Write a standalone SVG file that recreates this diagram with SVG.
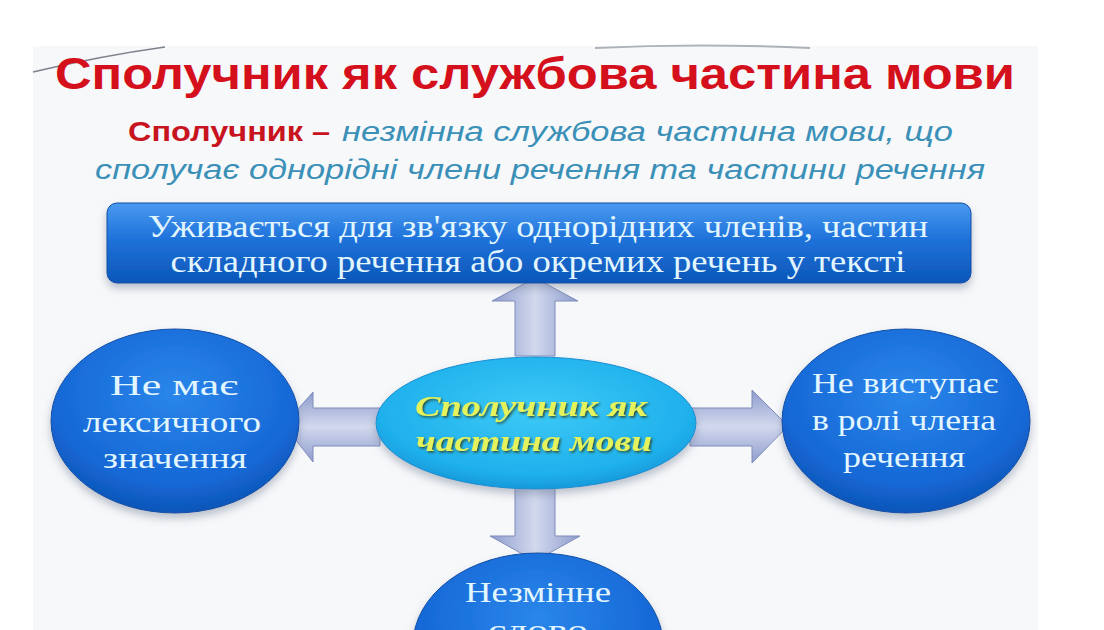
<svg xmlns="http://www.w3.org/2000/svg" width="1104" height="630" viewBox="0 0 1104 630">
  <defs>
    <linearGradient id="gBox" x1="0" y1="0" x2="0" y2="1">
      <stop offset="0" stop-color="#4a9af0"/>
      <stop offset="0.45" stop-color="#1e72da"/>
      <stop offset="1" stop-color="#0c56b8"/>
    </linearGradient>
    <radialGradient id="gBlue" cx="0.5" cy="0.35" r="0.7">
      <stop offset="0" stop-color="#2a86ea"/>
      <stop offset="0.7" stop-color="#1668d6"/>
      <stop offset="1" stop-color="#0a4fae"/>
    </radialGradient>
    <radialGradient id="gCenter" cx="0.5" cy="0.4" r="0.65">
      <stop offset="0" stop-color="#3dcaf6"/>
      <stop offset="0.75" stop-color="#1fb0ec"/>
      <stop offset="1" stop-color="#138fd2"/>
    </radialGradient>
    <linearGradient id="gArrV" x1="0" y1="0" x2="1" y2="0">
      <stop offset="0" stop-color="#8e9ccc"/>
      <stop offset="0.5" stop-color="#d2d9ee"/>
      <stop offset="1" stop-color="#8e9ccc"/>
    </linearGradient>
    <linearGradient id="gArrH" x1="0" y1="0" x2="0" y2="1">
      <stop offset="0" stop-color="#8e9ccc"/>
      <stop offset="0.5" stop-color="#d2d9ee"/>
      <stop offset="1" stop-color="#8e9ccc"/>
    </linearGradient>
    <filter id="shadow" x="-20%" y="-20%" width="140%" height="150%">
      <feDropShadow dx="0" dy="5" stdDeviation="4" flood-color="#6a7890" flood-opacity="0.45"/>
    </filter>
    <filter id="tshadow" x="-10%" y="-30%" width="120%" height="160%">
      <feDropShadow dx="1.5" dy="1.5" stdDeviation="0.8" flood-color="#2a3a18" flood-opacity="0.85"/>
    </filter>
  </defs>
  <style>
    .title { font-family: "Liberation Sans", Arial, sans-serif; font-weight: bold; fill: #d4101c; }
    .defRed { font-family: "Liberation Sans", Arial, sans-serif; font-weight: bold; fill: #c8141e; font-size: 27px; }
    .defBlue { font-family: "Liberation Sans", Arial, sans-serif; font-style: italic; fill: #3b90b8; font-size: 27px; }
    .nodeText { font-family: "Liberation Serif", "DejaVu Serif", serif; fill: #e2f6ff; text-anchor: middle; }
    .centerText { font-family: "Liberation Serif", "DejaVu Serif", serif; font-style: italic; font-weight: bold; fill: #e4f25c; text-anchor: middle; font-size: 30px; }
    .arrow { stroke: #7f8cbc; stroke-width: 1; }
  </style>

  <!-- background -->
  <rect x="0" y="0" width="1104" height="630" fill="#ffffff"/>
  <rect x="33" y="46" width="1005" height="584" fill="#f7f8fa"/>
  <path d="M33 72 Q100 56 165 47" fill="none" stroke="#7d838c" stroke-width="1.5"/>
  <path d="M595 48 Q700 43 810 48" fill="none" stroke="#9aa0a8" stroke-width="2" opacity="0.8"/>

  <!-- heading -->
  <text class="title" x="55" y="89" font-size="44" textLength="960" lengthAdjust="spacingAndGlyphs">Сполучник як службова частина мови</text>
  <text class="defRed" x="128" y="141" textLength="202" lengthAdjust="spacingAndGlyphs">Сполучник –</text>
  <text class="defBlue" x="342" y="141" textLength="611" lengthAdjust="spacingAndGlyphs">незмінна службова частина мови, що</text>
  <text class="defBlue" x="95" y="179" textLength="890" lengthAdjust="spacingAndGlyphs">сполучає однорідні члени речення та частини речення</text>

  <!-- connectors -->
  <g id="connectors">
    <path class="arrow" fill="url(#gArrV)" d="M515 356 L515 301 L492 301 L535 278 L578 301 L555 301 L555 356 Z"/>
    <path class="arrow" fill="url(#gArrV)" d="M515 484 L515 536 L490 536 L535 561 L580 536 L555 536 L555 484 Z"/>
    <path class="arrow" fill="url(#gArrH)" d="M380 408 L313 408 L313 392 L284 425 L313 462 L313 446 L380 446 Z"/>
    <path class="arrow" fill="url(#gArrH)" d="M690 408 L752 408 L752 390 L788 426 L752 463 L752 446 L690 446 Z"/>
  </g>

  <!-- top box -->
  <g id="node-top">
    <rect x="107" y="203" width="864" height="80" rx="10" ry="10" fill="url(#gBox)" stroke="#0d4fa6" stroke-width="1" filter="url(#shadow)"/>
    <text class="nodeText" x="538" y="237" font-size="31" textLength="780" lengthAdjust="spacingAndGlyphs">Уживається для зв'язку однорідних членів, частин</text>
    <text class="nodeText" x="538" y="272" font-size="31" textLength="735" lengthAdjust="spacingAndGlyphs">складного речення або окремих речень у тексті</text>
  </g>

  <!-- center -->
  <g id="node-center">
    <ellipse cx="536" cy="423" rx="160" ry="66" fill="url(#gCenter)" stroke="#1b8fd0" stroke-width="1" filter="url(#shadow)"/>
    <g filter="url(#tshadow)">
      <text class="centerText" x="531" y="416" textLength="232" lengthAdjust="spacingAndGlyphs">Сполучник як</text>
      <text class="centerText" x="534" y="451" textLength="236" lengthAdjust="spacingAndGlyphs">частина мови</text>
    </g>
  </g>

  <!-- left -->
  <g id="node-left">
    <ellipse cx="175" cy="421" rx="124" ry="92" fill="url(#gBlue)" stroke="#0d4fa6" stroke-width="1" filter="url(#shadow)"/>
    <text class="nodeText" x="174" y="395" font-size="30" textLength="128" lengthAdjust="spacingAndGlyphs">Не має</text>
    <text class="nodeText" x="172" y="432" font-size="30" textLength="178" lengthAdjust="spacingAndGlyphs">лексичного</text>
    <text class="nodeText" x="175" y="468" font-size="30" textLength="144" lengthAdjust="spacingAndGlyphs">значення</text>
  </g>

  <!-- right -->
  <g id="node-right">
    <ellipse cx="906" cy="421" rx="124" ry="92" fill="url(#gBlue)" stroke="#0d4fa6" stroke-width="1" filter="url(#shadow)"/>
    <text class="nodeText" x="905" y="393" font-size="30" textLength="186" lengthAdjust="spacingAndGlyphs">Не виступає</text>
    <text class="nodeText" x="904" y="430" font-size="30" textLength="184" lengthAdjust="spacingAndGlyphs">в ролі члена</text>
    <text class="nodeText" x="904" y="467" font-size="30" textLength="122" lengthAdjust="spacingAndGlyphs">речення</text>
  </g>

  <!-- bottom -->
  <g id="node-bottom">
    <ellipse cx="538" cy="645" rx="125" ry="92" fill="url(#gBlue)" stroke="#0d4fa6" stroke-width="1" filter="url(#shadow)"/>
    <text class="nodeText" x="538" y="602" font-size="30" textLength="146" lengthAdjust="spacingAndGlyphs">Незмінне</text>
    <text class="nodeText" x="538" y="640" font-size="30" textLength="100" lengthAdjust="spacingAndGlyphs">слово</text>
  </g>
</svg>
